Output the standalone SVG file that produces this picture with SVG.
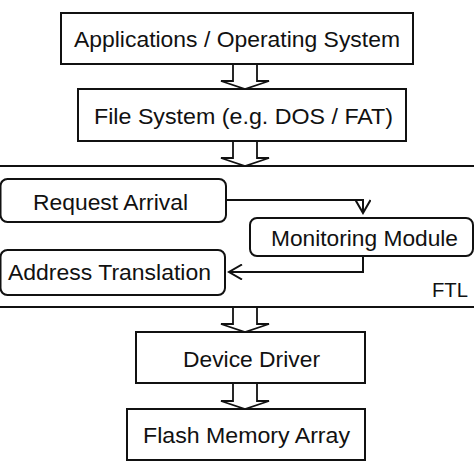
<svg xmlns="http://www.w3.org/2000/svg" width="474" height="474" viewBox="0 0 474 474">
<style>
.box{fill:#fff;stroke:#111;stroke-width:2}
.t{font-family:"Liberation Sans",Arial,sans-serif;font-size:21.5px;fill:#111}
.blk{fill:#fff;stroke:#111;stroke-width:1.8;stroke-linejoin:miter}
.con{fill:none;stroke:#111;stroke-width:2}
</style>
<defs>
<marker id="v" viewBox="0 0 16 16" refX="14" refY="8" markerWidth="16" markerHeight="16" markerUnits="userSpaceOnUse" orient="auto">
<path d="M1,0.5 L14,8 L1,15.5" fill="none" stroke="#111" stroke-width="2"/>
</marker>
</defs>
<rect width="474" height="474" fill="#fff"/>
<g id="ftl">
<rect class="box" x="-5" y="166" width="484" height="141"/>
<text class="t" x="432" y="297" textLength="36" lengthAdjust="spacingAndGlyphs" style="font-size:20px">FTL</text>
</g>
<g id="apps">
<rect class="box" x="61" y="13" width="352" height="51"/>
<text class="t" x="74" y="47" textLength="326" lengthAdjust="spacingAndGlyphs">Applications / Operating System</text>
</g>
<g id="fs">
<rect class="box" x="78" y="89" width="328" height="52"/>
<text class="t" x="94" y="124" textLength="299" lengthAdjust="spacingAndGlyphs">File System (e.g. DOS / FAT)</text>
</g>
<g id="request">
<rect class="box" x="0.5" y="179" width="225.5" height="43" rx="7"/>
<text class="t" x="33" y="210" textLength="155" lengthAdjust="spacingAndGlyphs" style="font-size:22px">Request Arrival</text>
</g>
<g id="monitor">
<rect class="box" x="250" y="218" width="223" height="38" rx="7"/>
<text class="t" x="271" y="246" textLength="187" lengthAdjust="spacingAndGlyphs">Monitoring Module</text>
</g>
<g id="address">
<rect class="box" x="0.5" y="250" width="224.5" height="45" rx="7"/>
<text class="t" x="8" y="280" textLength="203" lengthAdjust="spacingAndGlyphs">Address Translation</text>
</g>
<g id="driver">
<rect class="box" x="136" y="332" width="229" height="51"/>
<text class="t" x="183" y="367" textLength="137" lengthAdjust="spacingAndGlyphs">Device Driver</text>
</g>
<g id="flash">
<rect class="box" x="127" y="409" width="238" height="51"/>
<text class="t" x="143" y="443" textLength="207" lengthAdjust="spacingAndGlyphs">Flash Memory Array</text>
</g>
<g id="connectors">
<polygon class="blk" points="233,64 233,81 221,81 245,89 269,81 257,81 257,64"/>
<polygon class="blk" points="233,141 233,158 221,158 245,166 269,158 257,158 257,141"/>
<polygon class="blk" points="233,307 233,324 221,324 245,332 269,324 257,324 257,307"/>
<polygon class="blk" points="233,383 233,401 221,401 245,409 269,401 257,401 257,383"/>
<path class="con" d="M226,200 H363 V213" marker-end="url(#v)"/>
<path class="con" d="M363,256 V272 H229" marker-end="url(#v)"/>
</g>
</svg>
